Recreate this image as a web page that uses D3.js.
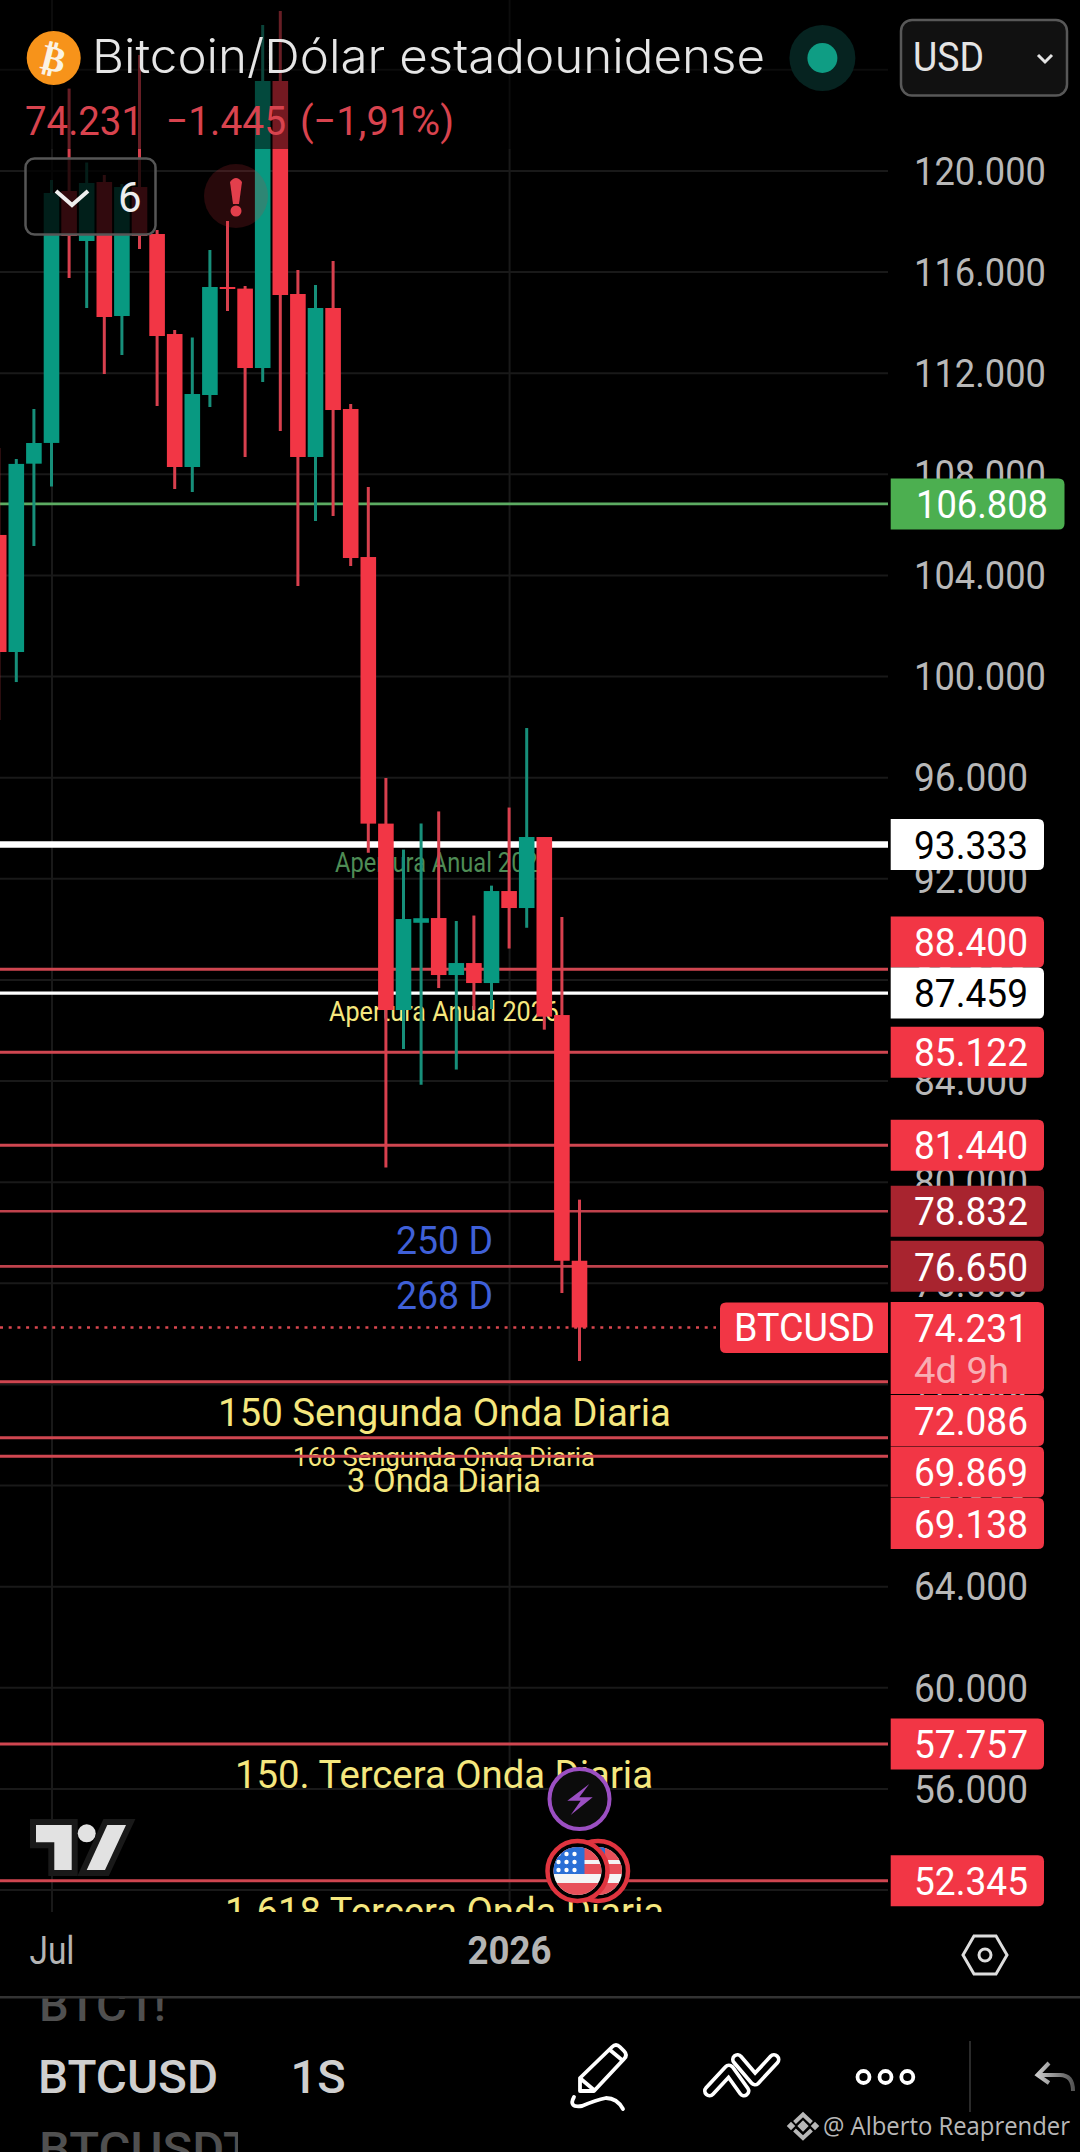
<!DOCTYPE html>
<html><head><meta charset="utf-8">
<script src="https://cdn.jsdelivr.net/npm/d3@7/dist/d3.min.js"></script>
<style>html,body{margin:0;padding:0;background:#000;overflow:hidden}svg{display:block}</style>
</head><body><svg id="c" width="1080" height="2152"></svg>
<script>
const weeks=["2025-06-09","2025-06-16","2025-06-23","2025-06-30","2025-07-07","2025-07-14","2025-07-21","2025-07-28","2025-08-04","2025-08-11","2025-08-18","2025-08-25","2025-09-01","2025-09-08","2025-09-15","2025-09-22","2025-09-29","2025-10-06","2025-10-13","2025-10-20","2025-10-27","2025-11-03","2025-11-10","2025-11-17","2025-11-24","2025-12-01","2025-12-08","2025-12-15","2025-12-22","2025-12-29","2026-01-05","2026-01-12","2026-01-19","2026-01-26"];
const opens=[105580,100950,108400,109220,119185,117208,119541,114240,119343,117484,113528,108268,111116,115388,115324,112183,123536,115111,108664,114557,110562,104707,94162,86789,90240,90427,88173,88647,87856,91495,90823,93632,86590,76871];
const highs=[109020,108584,110562,119620,123236,120313,119818,119462,124565,117642,113687,113390,116851,117999,115427,125752,126305,116060,115467,116417,110760,107476,95965,93133,94162,94644,90309,90526,91709,94798,97943,93632,90466,79288];
const lows=[98260,99762,105142,107500,115744,114557,111946,112698,116891,110680,107397,107278,110641,114438,108664,111630,109691,103560,106132,106329,104351,93014,80558,85246,83837,87658,84434,86789,86827,89221,90042,86012,75594,72905];
const closes=[100950,108390,109217,119106,117405,119502,114201,119343,117405,113449,108268,111155,115388,115309,112183,123536,115071,108664,114557,110522,104668,94162,86789,90388,90420,88173,88647,87856,91495,90823,93632,86527,76871,74231];
const priceTicks=[124000,120000,116000,112000,108000,104000,100000,96000,92000,88000,84000,80000,76000,72000,68000,64000,60000,56000,52000];
const redLevels=[88400,85122,81440,78832,76650,72086,69869,69138,57757,52345];
const mutedLevels=[78832,76650];
const greenLevels=[106808];
const whiteLevels=[93333,87459];
const lastPrice=74231;
const timeLabels=["Jul","2026"];
const timeTickWeeks=["2025-06-30","2025-12-29"];
const fmt=v=>d3.format(",")(v).replace(/,/g,".");
const W=888,H=1912;
const svg=d3.select("#c");
const defs=svg.append("defs");
defs.append("clipPath").attr("id","plot").append("rect").attr("width",W).attr("height",H);
defs.append("clipPath").attr("id","tool").append("rect").attr("y",1998.5).attr("width",238).attr("height",154);
const fadeGrad=defs.append("linearGradient").attr("id","undo").attr("x1",0).attr("x2",1).attr("y1",0).attr("y2",0);
fadeGrad.append("stop").attr("offset",0).attr("stop-color","#c8c8c8");
fadeGrad.append("stop").attr("offset",1).attr("stop-color","#555");
const y=d3.scaleLinear().domain([120000,56000]).range([170.4,1788.4]);
const parse=d3.utcParse("%Y-%m-%d");
const x=d3.scaleUtc().domain([parse(weeks[0]),parse(weeks[weeks.length-1])]).range([-1.3,579.5]);
const RED="#f23645",GREEN="#089981",YEL="#f5e77e",F="Roboto, sans-serif";
function T(p,s,tx,ty,o={}){
  const t=p.append("text").attr("x",tx).attr("y",ty).attr("dy",".36em").text(s)
   .attr("font-family",o.fam||F).attr("font-size",o.size||36).attr("fill",o.fill||"#fff")
   .attr("font-weight",o.weight||400).attr("text-anchor",o.anchor||"start");
  if(o.len){t.attr("textLength",o.len).attr("lengthAdjust","spacingAndGlyphs");}
  return t;
}
// grid + axes (under everything)
const axY=svg.append("g").call(d3.axisRight(y).tickValues(priceTicks).tickSize(W).tickPadding(26).tickFormat(fmt));
axY.select(".domain").remove();
axY.selectAll("line").attr("stroke","#191919").attr("stroke-width",2);
axY.selectAll("text").attr("font-family",F).attr("font-size",39.5).attr("fill","#b8b8b8").attr("dy",".35em")
  .attr("textLength",d=>d>=100000?132:114).attr("lengthAdjust","spacingAndGlyphs");
const axX=svg.append("g").attr("transform",`translate(0,${H})`)
  .call(d3.axisBottom(x).tickValues(timeTickWeeks.map(parse)).tickSize(-H).tickPadding(25).tickFormat((d,i)=>timeLabels[i]));
axX.select(".domain").remove();
axX.selectAll("line").attr("stroke","#191919").attr("stroke-width",2);
axX.selectAll("text").attr("font-family",F).attr("font-size",38).attr("fill","#b4b4b4")
  .attr("font-weight",(d,i)=>i?700:400).attr("dy",".72em")
  .attr("textLength",(d,i)=>i?84:45).attr("lengthAdjust","spacingAndGlyphs");
const plot=svg.append("g").attr("clip-path","url(#plot)");
// text annotations under the levels
const ann=plot.append("g");
T(ann,"Apertura Anual 2025",335,862,{size:27,fill:"#4e8c55",len:216});
T(ann,"Apertura Anual 2026",329,1011,{size:27,fill:YEL,len:230});
T(ann,"250 D",396,1240,{size:38,fill:"#3f60d8",len:97});
T(ann,"268 D",396,1295,{size:38,fill:"#3f60d8",len:97});
T(ann,"150 Sengunda Onda Diaria",218,1412,{size:38,fill:YEL,len:453});
T(ann,"168 Sengunda Onda Diaria",293,1457,{size:26,fill:YEL,len:302});
T(ann,"3 Onda Diaria",347,1480,{size:33,fill:YEL,len:194});
T(ann,"150. Tercera Onda Diaria",235,1774,{size:38,fill:YEL,len:418});
T(ann,"1.618 Tercera Onda Diaria",225,1911,{size:38,fill:YEL,len:439});
// levels
const lev=plot.append("g");
lev.selectAll(".r").data(redLevels).join("line").attr("x1",0).attr("x2",W).attr("y1",y).attr("y2",y)
  .attr("stroke",d=>mutedLevels.includes(d)?"#bf424c":"#cf4650").attr("stroke-width",d=>mutedLevels.includes(d)?2.6:3);
lev.selectAll(".g").data(greenLevels).join("line").attr("x1",0).attr("x2",W).attr("y1",y).attr("y2",y).attr("stroke","#5cab62").attr("stroke-width",2.8);
lev.selectAll(".w").data(whiteLevels).join("line").attr("x1",0).attr("x2",W).attr("y1",y).attr("y2",y).attr("stroke","#fff").attr("stroke-width",(d,i)=>i?3.4:6.5);
plot.append("line").attr("x1",0).attr("x2",716).attr("y1",y(lastPrice)).attr("y2",y(lastPrice))
  .attr("stroke","#d9474f").attr("stroke-width",2.5).attr("stroke-dasharray","3 5.7");
// candles
const candleData=weeks.map((w,i)=>({d:parse(w),o:opens[i],h:highs[i],l:lows[i],c:closes[i]}));
const cg=plot.append("g");
const col=d=>d.c>=d.o?GREEN:RED;
cg.selectAll(".wick").data(candleData).join("line").attr("x1",d=>x(d.d)).attr("x2",d=>x(d.d))
  .attr("y1",d=>y(d.h)).attr("y2",d=>y(d.l)).attr("stroke",d=>d.c>=d.o?"#178f7a":"#d8404e").attr("stroke-width",3);
cg.selectAll(".body").data(candleData).join("rect").attr("x",d=>x(d.d)-7.8).attr("width",15.6)
  .attr("y",d=>y(Math.max(d.o,d.c))).attr("height",d=>Math.max(2,Math.abs(y(d.o)-y(d.c)))).attr("fill",col);
// event icons
const ev=svg.append("g");
ev.append("circle").attr("cx",579.5).attr("cy",1799).attr("r",30).attr("fill","#0c0c0c").attr("stroke","#9b4fc2").attr("stroke-width",4);
ev.append("path").attr("d","M589.3 1784 L567.3 1800.7 L580.7 1800.7 L570.7 1815 L592.7 1797.3 L579.3 1797.3 Z").attr("fill","#9b4fc2");
function flag(cx,cy,clip){
  defs.append("clipPath").attr("id",clip).append("circle").attr("cx",cx).attr("cy",cy).attr("r",24);
  ev.append("circle").attr("cx",cx).attr("cy",cy).attr("r",30).attr("fill","#000").attr("stroke","#e0343f").attr("stroke-width",4.5);
  const f=ev.append("g").attr("clip-path",`url(#${clip})`);
  f.append("rect").attr("x",cx-30).attr("y",cy-30).attr("width",60).attr("height",60).attr("fill","#f4f4f4");
  [-30,-7,12].forEach((o,i)=>f.append("rect").attr("x",cx-30).attr("y",cy+o).attr("width",60).attr("height",i==0?19:i==1?10:20).attr("fill","#e8505a"));
  f.append("rect").attr("x",cx-30).attr("y",cy-30).attr("width",37).attr("height",33).attr("fill","#2a6fd6");
  [[-19,-17],[-11,-17],[-3,-17],[-19,-9],[-11,-9],[-3,-9],[-19,-1],[-11,-1],[-3,-1]].forEach(p=>f.append("circle").attr("cx",cx+p[0]).attr("cy",cy+p[1]).attr("r",2.2).attr("fill","#fff"));
}
flag(598,1871,"fb");flag(577.5,1871,"ff");
// TradingView logo
const tv=svg.append("g").attr("fill","#e2e2e2").attr("stroke","#191919").attr("stroke-width",12).attr("paint-order","stroke").attr("stroke-linejoin","miter");
tv.append("path").attr("d","M36 1825 H71.7 V1870 H54.3 V1842.3 H36 Z");
tv.append("circle").attr("cx",86.7).attr("cy",1833.3).attr("r",9).attr("stroke","none");
tv.append("path").attr("d","M107.3 1825 H126 L105 1870 H86.7 Z");
// top veil
svg.append("rect").attr("width",W).attr("height",149).attr("fill","#000").attr("opacity",.52);
// header
const hd=svg.append("g");
hd.append("circle").attr("cx",53.7).attr("cy",58).attr("r",27).attr("fill","#f7931a");
T(hd,"₿",53.7,58,{fam:"DejaVu Sans",size:36,weight:700,anchor:"middle",fill:"#fbf3e4"}).attr("transform","rotate(14 53.7 58)");
T(hd,"Bitcoin/Dólar estadounidense",92,56,{fam:"Inter, sans-serif",size:47,weight:350,fill:"#e6e6e6",len:673});
T(hd,"74.231",25,121,{size:40,fill:"#d8434e",len:118});
T(hd,"−1.445",166,121,{size:40,fill:"#d8434e",len:120});
T(hd,"(−1,91%)",300,121,{size:40,fill:"#d8434e",len:154});
hd.append("circle").attr("cx",822.4).attr("cy",58).attr("r",33).attr("fill","#062320");
hd.append("circle").attr("cx",822.4).attr("cy",58).attr("r",15).attr("fill","#0f9d84");
hd.append("rect").attr("x",901).attr("y",20).attr("width",166).attr("height",75.5).attr("rx",11).attr("fill","#111").attr("stroke","#585858").attr("stroke-width",2.5);
T(hd,"USD",913,57,{size:40,fill:"#e4e4e4",len:71});
hd.append("path").attr("d","M1038 55 L1045 62 L1052 55").attr("fill","none").attr("stroke","#e4e4e4").attr("stroke-width",3);
hd.append("rect").attr("x",25.5).attr("y",158.5).attr("width",130).attr("height",76).attr("rx",9).attr("fill","#000").attr("fill-opacity",.8).attr("stroke","#565656").attr("stroke-width",2.5);
hd.append("path").attr("d","M56 191 L72 205 L88 191").attr("fill","none").attr("stroke","#eee").attr("stroke-width",4);
T(hd,"6",118,197,{size:42,fill:"#eee"});
hd.append("circle").attr("cx",236).attr("cy",196).attr("r",32).attr("fill","#e0323f").attr("opacity",.18);
hd.append("path").attr("d","M230 182 Q236 174 242 182 L239 204 H233 Z").attr("fill","#e23f4c");
hd.append("circle").attr("cx",236).attr("cy",211).attr("r",5.5).attr("fill","#e23f4c");
// price tags
const BH=51;
const tags=[
 ...greenLevels.map(v=>({v,bg:"#4caf50",fg:"#fff",x2:1064.5,pin:1})),
 ...whiteLevels.map(v=>({v,bg:"#fff",fg:"#000",x2:1044,pin:1})),
 ...redLevels.map(v=>({v,bg:mutedLevels.includes(v)?"#a8242f":RED,fg:"#fff",x2:1044})),
 {v:lastPrice,bg:RED,fg:"#fff",x2:1044,pin:1,last:1}
].sort((a,b)=>b.v-a.v);
tags.forEach(t=>t.cy=y(t.v));
tags.forEach((t,i)=>{const p=tags[i-1],n=tags[i+1];
  if(p&&!t.pin){const b=p.cy+(p.last?67:25.5)+.5; if(t.cy-25.5<b){ if(n&&n.pin&&n.cy-t.cy<BH){t.cy=n.cy-BH;} else t.cy=b+25.5; } }
  if(n&&n.pin&&!t.pin&&n.cy-t.cy<BH)t.cy=n.cy-BH;
});
const tg=svg.append("g");
tags.forEach(t=>{
  const h=t.last?92:BH, top=t.cy-25.5;
  tg.append("path").attr("d",`M890.7 ${top} H${t.x2-6} q6 0 6 6 V${top+h-6} q0 6 -6 6 H890.7 Z`).attr("fill",t.bg);
  T(tg,fmt(t.v),t.v>=100000?916:914,t.cy,{size:39.5,fill:t.fg,len:t.v>=100000?132:114});
});
T(tg,"4d 9h",914,y(lastPrice)+43,{size:36,fill:"#f8aeb4",len:95});
tg.append("path").attr("d",`M888 ${y(lastPrice)-25} H726 q-6 0 -6 6 V${y(lastPrice)+19.5} q0 6 6 6 H888 Z`).attr("fill",RED);
T(tg,"BTCUSD",734,y(lastPrice),{size:38,fill:"#fff",len:141});
// bottom toolbar
const bt=svg.append("g");
bt.append("line").attr("x1",0).attr("x2",1080).attr("y1",1997.3).attr("y2",1997.3).attr("stroke","#333").attr("stroke-width",2.5);
const hx=[[-22,0],[-11,-19],[11,-19],[22,0],[11,19],[-11,19]];
bt.append("polygon").attr("points",hx.map(p=>[985+p[0],1955+p[1]].join(",")).join(" ")).attr("fill","none").attr("stroke","#ddd").attr("stroke-width",3);
bt.append("circle").attr("cx",985).attr("cy",1955).attr("r",6).attr("fill","none").attr("stroke","#ddd").attr("stroke-width",3);
const clipT=bt.append("g").attr("clip-path","url(#tool)");
T(clipT,"BTC1!",39,2004.5,{size:46,weight:500,fill:"#505050",len:127});
T(clipT,"BTCUSDT",39,2148,{size:46,weight:500,fill:"#505050",len:214});
T(bt,"BTCUSD",38,2076.5,{size:46,weight:500,fill:"#cfcfcf",len:180});
T(bt,"1S",290.5,2076.5,{size:46,weight:500,fill:"#cfcfcf",len:55});
const ic=bt.append("g").attr("fill","none").attr("stroke","#fff").attr("stroke-width",3.8).attr("stroke-linecap","round").attr("stroke-linejoin","round");
ic.append("path").attr("d","M612 2047 Q616 2043 620 2047 L624 2051 Q628 2055 624 2059 L594 2091 H580 V2078 Z M610 2050 L622 2060 M581 2079 L594 2090");
ic.append("path").attr("d","M574 2097 Q568 2108 582 2106 Q596 2100 606 2098 Q617 2098 623 2109");
["M709.5 2091 L729 2070 L744 2091","M737.5 2059.5 L755 2080 L774 2059.5"].forEach(d=>{
 bt.append("path").attr("d",d).attr("fill","none").attr("stroke","#fff").attr("stroke-width",13).attr("stroke-linecap","round").attr("stroke-linejoin","round");
 bt.append("path").attr("d",d).attr("fill","none").attr("stroke","#000").attr("stroke-width",5.6).attr("stroke-linecap","round").attr("stroke-linejoin","round");
});
[863.5,885.5,907.3].forEach(c=>ic.append("ellipse").attr("cx",c).attr("cy",2077).attr("rx",6).attr("ry",6));
bt.append("line").attr("x1",970).attr("x2",970).attr("y1",2041).attr("y2",2112).attr("stroke","#2a2a2a").attr("stroke-width",2);
bt.append("path").attr("d","M1049 2063 L1037.5 2075 L1049 2083 M1037.5 2075 H1060 Q1073 2075 1073 2091").attr("fill","none").attr("stroke","url(#undo)").attr("stroke-width",4);
bt.append("path").attr("d","M794.5 2122.5 L803 2114.5 L811.5 2122.5 M794.5 2130 L803 2138 L811.5 2130").attr("fill","none").attr("stroke","#b8b8b8").attr("stroke-width",4);
[[791,2126,3],[815,2126,3],[803,2126,4]].forEach(p=>bt.append("rect").attr("x",p[0]-p[2]).attr("y",p[1]-p[2]).attr("width",2*p[2]).attr("height",2*p[2]).attr("fill","#b8b8b8").attr("transform",`rotate(45 ${p[0]} ${p[1]})`));
T(bt,"@ Alberto Reaprender",823,2126,{fam:"'Open Sans', sans-serif",size:26,fill:"#b8b8b8",len:247});
</script></body></html>
